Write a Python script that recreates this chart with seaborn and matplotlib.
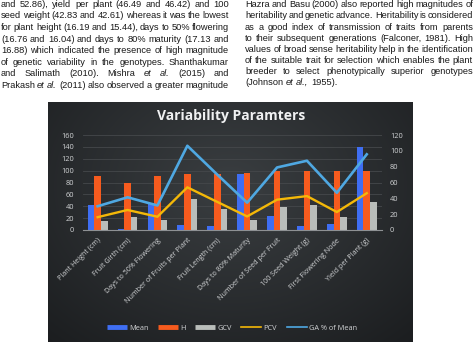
import numpy as np
import pandas as pd
import matplotlib
matplotlib.use("Agg")
import matplotlib.pyplot as plt
from matplotlib.lines import Line2D
import seaborn as sns

# ---- data -------------------------------------------------------------
traits = ["Plant Height (cm)", "Fruit Girth (cm)", "Days to 50% Flowering",
          "Number of Fruits per Plant", "Fruit Length (cm)", "Days to 80% Maturity",
          "Number of Seed per Fruit", "100 Seed Weight (g)", "First Flowering Node",
          "Yield per Plant (g)"]
mean_vals = [42.6, 1.0, 43.0, 9.0, 6.2, 94.8, 23.6, 6.2, 10.0, 140.0]
h_vals = [91.0, 79.0, 91.0, 94.5, 94.0, 96.5, 98.8, 98.8, 98.8, 98.8]
gcv_vals = [15.44, 22.4, 16.04, 52.86, 35.4, 16.88, 38.2, 42.61, 21.9, 46.42]
pcv_vals = [16.19, 25.3, 16.76, 53.9, 35.5, 17.13, 38.3, 42.83, 22.7, 46.49]
ga_vals = [30.0, 41.3, 31.0, 106.4, 70.0, 34.5, 79.0, 87.5, 47.0, 95.6]
left_ticks = list(range(0, 161, 20))
right_ticks = list(range(0, 121, 20))
series_names = ["Mean", "H", "GCV", "PCV", "GA % of Mean"]

left_lines = [
    "and 52.86), yield per plant (46.49 and 46.42) and 100",
    "seed weight (42.83 and 42.61) whereas it was the lowest",
    "for plant height (16.19 and 15.44), days to 50% flowering",
    "(16.76 and 16.04) and days to 80% maturity (17.13 and",
    "16.88) which indicated the presence of high magnitude",
    "of genetic variability in the genotypes. Shanthakumar",
    "and Salimath (2010). Mishra et al. (2015) and",
    "Prakash et al. (2011) also observed a greater magnitude",
]
right_lines = [
    "Hazra and Basu (2000) also reported high magnitudes of",
    "heritability and genetic advance. Heritability is considered",
    "as a good index of transmission of traits from parents",
    "to their subsequent generations (Falconer, 1981). High",
    "values of broad sense heritability help in the identification",
    "of the suitable trait for selection which enables the plant",
    "breeder to select phenotypically superior genotypes",
    "(Johnson et al., 1955).",
]

# ---- colours ----------------------------------------------------------
C_MEAN = "#3f6ef2"
C_H = "#f65b1e"
C_GCV = "#b9bdba"
C_PCV = "#f4b808"
C_GA = "#4fa8e2"
C_TXT = "#d2d4d6"

W, H = 474, 348
fig = plt.figure(figsize=(W / 100, H / 100), dpi=100)
fig.patch.set_facecolor("white")


def fx(px):
    return px / W


def fy(py):
    return 1 - py / H


# ---- dark panel with soft radial shading --------------------------------
bg = fig.add_axes([fx(48), fy(342), fx(413) - fx(48), fy(102) - fy(342)])
yy, xx = np.mgrid[0:1:240j, 0:1:366j]
r = np.sqrt(((xx - 0.5) / 0.75) ** 2 + ((yy - 0.35) / 0.9) ** 2)
t = np.clip(r, 0, 1)[..., None]
c0 = np.array([0x3a, 0x3e, 0x41]) / 255
c1 = np.array([0x1b, 0x1d, 0x1f]) / 255
img = c0 * (1 - t) + c1 * t
bg.imshow(img, aspect="auto", extent=[0, 1, 0, 1], origin="upper")
bg.set_axis_off()

# ---- bars --------------------------------------------------------------
ax = fig.add_axes([fx(82.7), fy(230), fx(381.7) - fx(82.7), fy(135) - fy(230)])
ax.patch.set_alpha(0)
df = pd.DataFrame({
    "trait": traits * 3,
    "series": ["Mean"] * len(traits) + ["H"] * len(traits) + ["GCV"] * len(traits),
    "value": mean_vals + h_vals + gcv_vals,
})
sns.barplot(data=df, x="trait", y="value", hue="series",
            palette={"Mean": C_MEAN, "H": C_H, "GCV": C_GCV},
            width=0.66, gap=0, saturation=1, legend=False, ax=ax, zorder=2)
ax.set_xlim(-0.5, len(traits) - 0.5)
ax.set_ylim(0, 160)
ax.set_yticks(left_ticks)
ax.set_yticklabels([str(v) for v in left_ticks])
ax.set_xlabel("")
ax.set_ylabel("")
ax.yaxis.grid(True, color="#45484b", lw=0.6)
ax.set_axisbelow(True)
for s in ["top", "left", "right"]:
    ax.spines[s].set_visible(False)
ax.spines["bottom"].set_color("#8e9194")
ax.spines["bottom"].set_linewidth(0.8)
ax.spines["bottom"].set_zorder(3)
ax.tick_params(axis="both", length=0, labelsize=5.3, labelcolor=C_TXT)
ax.tick_params(axis="y", pad=6)
ax.tick_params(axis="x", pad=5)
ax.set_xticks(range(len(traits)))
ax.set_xticklabels(traits, rotation=45, ha="right", rotation_mode="anchor",
                   fontsize=5.1, color=C_TXT)

# ---- lines on the secondary axis --------------------------------------
ax2 = ax.twinx()
pos = np.arange(len(traits))
sns.lineplot(x=pos, y=pcv_vals, ax=ax2, color=C_PCV, lw=1.7)
sns.lineplot(x=pos, y=ga_vals, ax=ax2, color=C_GA, lw=1.9)
ax2.set_ylim(0, 120)
ax2.set_yticks(right_ticks)
ax2.set_yticklabels([str(v) for v in right_ticks])
ax2.set_ylabel("")
for s in ax2.spines.values():
    s.set_visible(False)
ax2.tick_params(axis="y", length=0, labelsize=5.3, labelcolor=C_TXT, pad=6)

for a in (ax, ax2):
    for lab in a.get_xticklabels() + a.get_yticklabels():
        lab.set_family("Open Sans")

# ---- title & legend ----------------------------------------------------
fig.text(fx(231), fy(116), "Variability Paramters", ha="center", va="center",
         fontsize=10, fontweight="bold", color="#f0f1f2", family="Open Sans")

handles = [
    Line2D([], [], color=C_MEAN, lw=3.5, solid_capstyle="butt"),
    Line2D([], [], color=C_H, lw=3.5, solid_capstyle="butt"),
    Line2D([], [], color=C_GCV, lw=3.5, solid_capstyle="butt"),
    Line2D([], [], color=C_PCV, lw=1.2),
    Line2D([], [], color=C_GA, lw=1.2),
]
fig.legend(handles, series_names, loc="center", bbox_to_anchor=(fx(232), fy(328)),
           ncol=5, frameon=False, handlelength=2.7, handletextpad=0.3,
           columnspacing=1.3, prop={"family": "Open Sans", "size": 5.3},
           labelcolor=C_TXT)

# ---- body text above the figure -------------------------------------------
renderer = fig.canvas.get_renderer()
ITALIC = {"et", "al.", "al.,"}
SPACE_EM = 0.278


def word_widths(words, fs):
    out = []
    for w in words:
        t = fig.text(0, 0, w, fontsize=fs, family="Liberation Sans",
                     fontstyle="italic" if w in ITALIC else "normal")
        out.append(t.get_window_extent(renderer).width)
        t.remove()
    return out


def fit_size(blocks, target):
    ratio = 1.0
    for lines, x0, x1 in blocks:
        for line in lines[:-1]:
            words = line.split()
            nat = sum(word_widths(words, target)) + \
                (len(words) - 1) * target * 100 / 72 * SPACE_EM * 0.6
            ratio = max(ratio, nat / (x1 - x0))
    return target / ratio


def set_block(lines, x0, x1, baselines, fs, justify_last=False):
    for i, (line, yb) in enumerate(zip(lines, baselines)):
        words = line.split()
        texts = []
        for w in words:
            t = fig.text(0, 0, w, fontsize=fs, family="Liberation Sans",
                         color="#1a1a1a", va="baseline", ha="left",
                         fontstyle="italic" if w in ITALIC else "normal")
            texts.append(t)
        widths = [t.get_window_extent(renderer).width for t in texts]
        last = i == len(lines) - 1
        if last and not justify_last:
            gap = fs * 100 / 72 * SPACE_EM
        else:
            gap = (x1 - x0 - sum(widths)) / max(len(words) - 1, 1)
        x = x0
        for t, w in zip(texts, widths):
            t.set_position((fx(x), fy(yb)))
            x += w + gap


LX0, LX1 = 1, 229
RX0, RX1 = 245, 473
FS = fit_size([(left_lines + [""], LX0, LX1), (right_lines, RX0, RX1)], 7.2)
base_l = [6.8 + 11.6 * k for k in range(8)]
base_r = [7.4 + 11.05 * k for k in range(8)]
set_block(left_lines, LX0, LX1, base_l, FS, justify_last=True)
set_block(right_lines, RX0, RX1, base_r, FS)

fig.savefig("out.png", dpi=100, facecolor="white")
